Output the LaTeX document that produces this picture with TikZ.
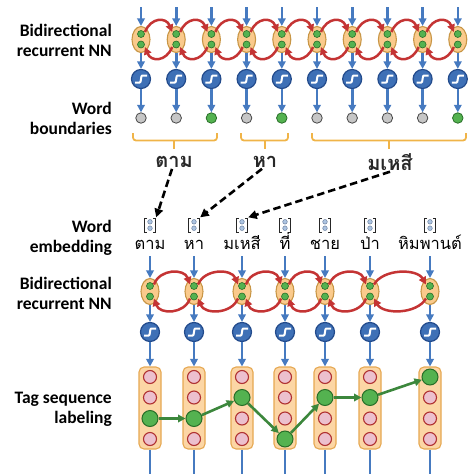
\documentclass[tikz,border=0pt]{standalone}
\usepackage{fontspec}
\setmainfont{Carlito}
\newfontfamily\thai[Script=Thai]{Loma}
\usetikzlibrary{arrows.meta,calc,shapes.geometric}
\definecolor{bluearr}{RGB}{70,122,192}
\definecolor{redarc}{RGB}{196,52,52}
\definecolor{ellfill}{RGB}{250,202,140}
\definecolor{elldraw}{RGB}{200,150,70}
\definecolor{gdot}{RGB}{84,178,80}
\definecolor{gdotb}{RGB}{40,110,40}
\definecolor{sigfill}{RGB}{62,112,182}
\definecolor{sigdraw}{RGB}{35,75,140}
\definecolor{brk}{RGB}{240,180,72}
\definecolor{boxfill}{RGB}{252,214,165}
\definecolor{boxdraw}{RGB}{230,168,82}
\definecolor{pinkf}{RGB}{236,192,206}
\definecolor{pinkd}{RGB}{176,50,50}
\definecolor{gpath}{RGB}{60,135,60}
\definecolor{embf}{RGB}{172,196,226}
\definecolor{embd}{RGB}{110,130,160}
\definecolor{txtd}{RGB}{40,40,40}
\begin{document}
\begin{tikzpicture}[x=1pt,y=-1pt,
  blarrow/.style={draw=bluearr,line width=2.6pt,-{Triangle[length=7.5pt,width=7.5pt]}},
  blline/.style={draw=bluearr,line width=2.6pt},
  rarc/.style={draw=redarc,line width=2.5pt,-{Triangle[length=7.5pt,width=7.5pt]}},
  rnn/.style={ellipse,draw=elldraw,fill=ellfill,line width=1.1pt,minimum width=18pt,minimum height=26pt,inner sep=0pt},
  gsmall/.style={circle,fill=gdot,draw=gdotb,line width=0.6pt,minimum size=7pt,inner sep=0pt},
  sig/.style={circle,fill=sigfill,draw=sigdraw,line width=1.2pt,minimum size=19pt,inner sep=0pt},
  sigstep/.style={draw=white,line width=2pt,rounded corners=0.8pt},
  bgray/.style={circle,fill=gray!45,draw=gray!55!black,line width=0.8pt,minimum size=10.5pt,inner sep=0pt},
  bgreen/.style={circle,fill=gdot,draw=gdotb,line width=0.8pt,minimum size=10.5pt,inner sep=0pt},
  brace/.style={draw=brk,line width=1.8pt,rounded corners=3pt},
  lbl/.style={font=\fontsize{17.5}{20}\selectfont\bfseries,align=right,anchor=east,inner sep=0pt},
  thaiw/.style={font=\thai\fontsize{16.5}{18}\selectfont,text height=11pt,text depth=3pt,inner sep=1pt},
  thaib/.style={font=\thai\bfseries\fontsize{20}{22}\selectfont,text=txtd,inner sep=1pt},
  dasharr/.style={draw=black,line width=2.6pt,dash pattern=on 7.5pt off 4pt,-{Triangle[length=8.5pt,width=8.5pt]}},
  embnode/.style={minimum width=12pt,minimum height=15pt,inner sep=0pt},
  embbr/.style={draw=gray!30!black,line width=0.8pt},
  embc/.style={circle,fill=embf,draw=embd,line width=0.5pt,minimum size=4.6pt,inner sep=0pt},
  tagbox/.style={rectangle,rounded corners=5pt,fill=boxfill,draw=boxdraw,line width=1.1pt,minimum width=22pt,minimum height=82pt,inner sep=0pt},
  tagc/.style={circle,fill=pinkf,draw=pinkd,line width=1.1pt,minimum size=13pt,inner sep=0pt},
  tagg/.style={circle,fill=gdot,draw=gdotb,line width=1pt,minimum size=16pt,inner sep=0pt},
  garr/.style={draw=gpath,line width=2.6pt,-{Triangle[length=7.5pt,width=7.5pt]}}
]
\useasboundingbox (0,0) rectangle (474,474);

% ---------------- labels
\node[lbl] (l1) at (112,40) {Bidirectional\\recurrent NN};
\node[lbl] (l2) at (112,118) {Word\\boundaries};
\node[lbl] (l3) at (112,238) {Word\\embedding};
\node[lbl] (l4) at (112,293) {Bidirectional\\recurrent NN};
\node[lbl] (l5) at (112,409) {Tag sequence\\labeling};

% ---------------- top section (character level)
\foreach \i in {1,...,10} {
  \pgfmathsetmacro{\x}{141+35.2*(\i-1)}
  \coordinate (t\i) at (\x,7);
  \node[rnn] (r\i) at (\x,39.5) {};
  \node[gsmall] (ra\i) at (\x,34) {};
  \node[gsmall] (rb\i) at (\x,44.5) {};
  \node[sig] (s\i) at (\x,79) {};
  \draw[sigstep] ($(s\i)+(-6,3.5)$) -- ++(5.4,0) -- ++(1.2,-7) -- ++(5.4,0);
  \draw[blarrow] (t\i) -- (r\i);
  \draw[blarrow] (r\i) -- (s\i);
}
\foreach \i/\st in {1/bgray,2/bgray,3/bgreen,4/bgray,5/bgreen,6/bgray,7/bgray,8/bgray,9/bgray,10/bgreen} {
  \node[\st] (b\i) at ($(s\i)+(0,39)$) {};
  \draw[blarrow] (s\i) -- (b\i);
}
\foreach \i [evaluate=\i as \j using int(\i+1)] in {1,...,9} {
  \draw[rarc] ($(r\i)+(4,-7.5)$) .. controls ($(r\i)+(10,-22.5)$) and ($(r\j)+(-10,-22.5)$) .. ($(r\j)+(-4,-7.5)$);
  \draw[rarc] ($(r\j)+(-4,7.5)$) .. controls ($(r\j)+(-10,22.5)$) and ($(r\i)+(10,22.5)$) .. ($(r\i)+(4,7.5)$);
}

% braces
\draw[brace] (133,133) -- (133,140.5) -- (217,140.5) -- (217,133);
\draw[brace] (174,140.5) -- (174,149);
\draw[brace] (241,133) -- (241,140.5) -- (288,140.5) -- (288,133);
\draw[brace] (265,140.5) -- (265,149);
\draw[brace] (312,133) -- (312,140.5) -- (466,140.5) -- (466,133);
\draw[brace] (389,140.5) -- (389,149);

% segmented words
\node[thaib] (tw1) at (174,162) {ตาม};
\node[thaib] (tw2) at (265,162) {หา};
\node[thaib] (tw3) at (390,162) {มเหสี};

% ---------------- lower section (word level)
\foreach \x/\w [count=\i] in {150/ตาม,194/หา,242/มเหสี,285/ที่,325/ชาย,370/ป่า,430/หิมพานต์} {
  \node[embnode] (e\i) at (\x,225) {};
  \draw[embbr] ($(e\i)+(-3,-7)$) -- ++(-2.5,0) -- ++(0,14) -- ++(2.5,0);
  \draw[embbr] ($(e\i)+(3,-7)$) -- ++(2.5,0) -- ++(0,14) -- ++(-2.5,0);
  \node[embc] (ec\i a) at ($(e\i)+(0,-3.2)$) {};
  \node[embc] (ec\i b) at ($(e\i)+(0,3.2)$) {};
  \node[thaiw] (w\i) at (\x,245) {\w};
  \node[rnn] (q\i) at (\x,291.5) {};
  \node[gsmall] (qa\i) at (\x,286) {};
  \node[gsmall] (qb\i) at (\x,296.5) {};
  \node[sig] (u\i) at (\x,332) {};
  \draw[sigstep] ($(u\i)+(-6,3.5)$) -- ++(5.4,0) -- ++(1.2,-7) -- ++(5.4,0);
  \node[tagbox] (tb\i) at (\x,408) {};
  \coordinate (z\i) at (\x,474);
  \draw[blarrow] ([yshift=-3pt]w\i.south) -- (q\i);
  \draw[blarrow] (q\i) -- (u\i);
  \draw[blarrow] (u\i) -- (tb\i);
  \draw[blline] (tb\i) -- (z\i);
  \foreach \r/\dy in {1/-31,2/-10.5,3/10.5,4/31} {
    \node[tagc] (tc\i-\r) at (\x,{408+(\dy)}) {};
  }
}
\foreach \i/\j in {1/2,2/3,3/4,4/5,5/6,6/7} {
  \draw[rarc] ($(q\i)+(4,-7)$) .. controls ($(q\i)!0.22!(q\j)+(0,-23)$) and ($(q\j)!0.22!(q\i)+(0,-23)$) .. ($(q\j)+(-4,-7)$);
  \draw[rarc] ($(q\j)+(-4,7)$) .. controls ($(q\j)!0.22!(q\i)+(0,23)$) and ($(q\i)!0.22!(q\j)+(0,23)$) .. ($(q\i)+(4,7)$);
}

% tag path
\foreach \i/\r in {1/3,2/3,3/2,4/4,5/2,6/2,7/1} {
  \node[tagg] (g\i) at (tc\i-\r) {};
}
\foreach \i/\j in {1/2,2/3,3/4,4/5,5/6,6/7} {
  \draw[garr] (g\i) -- (g\j);
}

% dashed arrows from segmented words to embeddings
\draw[dasharr] ([xshift=-2pt]tw1.south) -- (e1.north east);
\draw[dasharr] ([xshift=-3pt]tw2.south) -- (e2.north east);
\draw[dasharr] (tw3.south) -- (e3.north east);
\end{tikzpicture}
\end{document}
